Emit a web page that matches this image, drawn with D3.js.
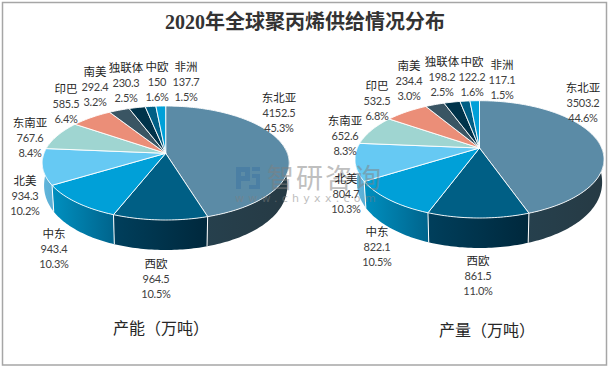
<!DOCTYPE html>
<html>

<head>
  <meta charset="utf-8">
  <script src="https://d3js.org/d3.v7.min.js"></script>
  <style>
    html, body { margin: 0; padding: 0; background: #fff; }
    svg { display: block; }
    .name { font-family: "Noto Sans CJK SC"; font-size: 11.5px; fill: #262626; }
    .num { font-family: Lato, "Noto Sans"; font-size: 11px; letter-spacing: -0.25px; fill: #404040; }
  </style>
</head>

<body>
  <div id="chart"></div>

  <script>
    var regions = ["东北亚", "西欧", "中东", "北美", "东南亚", "印巴", "南美", "独联体", "中欧", "非洲"];

    var capacity = [4152.5, 964.5, 943.4, 934.3, 767.6, 585.5, 292.4, 230.3, 150, 137.7];
    var capacityPct = ["45.3%", "10.5%", "10.3%", "10.2%", "8.4%", "6.4%", "3.2%", "2.5%", "1.6%", "1.5%"];

    var output = [3503.2, 861.5, 822.1, 804.7, 652.6, 532.5, 234.4, 198.2, 122.2, 117.1];
    var outputPct = ["44.6%", "11.0%", "10.5%", "10.3%", "8.3%", "6.8%", "3.0%", "2.5%", "1.6%", "1.5%"];

    var topColors = ["#5b8ba6", "#005f85", "#00a0d8", "#66c9f3", "#9fd5d1", "#eb8e78", "#3a5563", "#00334a", "#005f85", "#00a0d8"];
    // side wall of each slice, left and right end of the gradient
    var sideColors = [["#26404d", "#263a44"], ["#003f5c", "#00283c"], ["#0090c0", "#00648c"], ["#62b6dc", "#5aaed4"]];

    // label centres, same order as regions
    var capacityLabels = [[279, 97], [156, 263], [54, 233], [25, 180], [30, 122], [66, 88], [95, 71], [126, 67], [157, 66], [186, 66]];
    var outputLabels = [[583, 87], [478, 260], [377, 231], [346, 178], [345, 120], [377, 85], [409, 65], [442, 61], [472, 61], [502, 64]];

    var width = 610, height = 370;

    var svg = d3.select("#chart").append("svg")
      .attr("width", width)
      .attr("height", height);

    var defs = svg.append("defs");

    svg.append("rect")
      .attr("x", 2.5).attr("y", 2.5)
      .attr("width", 604).attr("height", 362.5)
      .attr("fill", "#fff")
      .attr("stroke", "#a6a6a6")
      .attr("stroke-width", 1.5);

    svg.append("text")
      .attr("x", 305).attr("y", 29)
      .attr("text-anchor", "middle")
      .attr("font-family", "'Liberation Serif', 'Noto Sans CJK SC'")
      .attr("font-size", 20)
      .attr("font-weight", "bold")
      .attr("fill", "#333")
      .text("2020年全球聚丙烯供给情况分布");

    // circle -> screen, perspective seen from the front of the pie
    function makeProjection(cx, topY, apexY, bottomY, rx) {
      var c = (2 * apexY - topY - bottomY) / (bottomY - topY);
      var a = bottomY * (1 + c) - apexY;
      var A = rx * Math.sqrt(1 - c * c);
      return function (angle) {
        var u = Math.sin(angle), v = -Math.cos(angle);
        var w = 1 + c * v;
        return [cx + A * u / w, (a * v + apexY) / w];
      };
    }

    function drawPie(id, values, pct, labelPos, caption, captionX, captionY, geo) {
      var project = makeProjection(geo.cx, geo.top, geo.apex, geo.bottom, geo.rx);
      var line = d3.line();
      var slices = d3.pie().sort(null).value(function (d) { return d; })(values);

      function arcPoints(a0, a1) {
        var n = Math.max(2, Math.ceil((a1 - a0) / 0.02));
        return d3.range(n + 1).map(function (i) { return a0 + (a1 - a0) * i / n; });
      }

      // lower rim point under a given angle
      function lower(angle) {
        var p = project(angle);
        var v = Math.max(0, -Math.cos(angle));
        var d = geo.depth * (0.62 + 0.38 * Math.pow(v, 0.6));
        return [geo.cx + (p[0] - geo.cx) * 0.985, p[1] + d];
      }

      var g = svg.append("g");
      var wall0 = 80 * Math.PI / 180, wall1 = 280 * Math.PI / 180;

      // walls first
      slices.forEach(function (s, i) {
        var a0 = Math.max(s.startAngle, wall0), a1 = Math.min(s.endAngle, wall1);
        if (a1 <= a0) return;
        var angles = arcPoints(a0, a1);
        var upper = angles.map(project);
        var under = angles.map(lower).reverse();
        var cols = sideColors[i] || sideColors[3];
        var gradId = id + "-side-" + i;
        var xs = upper.concat(under).map(function (p) { return p[0]; });
        var grad = defs.append("linearGradient")
          .attr("id", gradId)
          .attr("gradientUnits", "userSpaceOnUse")
          .attr("x1", d3.min(xs)).attr("x2", d3.max(xs))
          .attr("y1", 0).attr("y2", 0);
        grad.append("stop").attr("offset", 0).attr("stop-color", cols[0]);
        grad.append("stop").attr("offset", 1).attr("stop-color", cols[1]);
        g.append("path")
          .attr("d", line(upper.concat(under)) + "Z")
          .attr("fill", "url(#" + gradId + ")");
      });

      // white seams between walls
      slices.forEach(function (s) {
        if (s.endAngle <= wall0 || s.endAngle >= wall1) return;
        g.append("path")
          .attr("d", line([project(s.endAngle), lower(s.endAngle)]))
          .attr("stroke", "#fff")
          .attr("stroke-width", 1)
          .attr("fill", "none");
      });

      slices.forEach(function (s, i) {
        var pts = [[geo.cx, geo.apex]].concat(arcPoints(s.startAngle, s.endAngle).map(project));
        g.append("path")
          .attr("d", line(pts) + "Z")
          .attr("fill", topColors[i])
          .attr("stroke", "#fff")
          .attr("stroke-width", 0.9)
          .attr("stroke-linejoin", "round");
      });

      // caption + labels get added after the watermark
      return function () {
        var lab = svg.append("g").attr("text-anchor", "middle");
        slices.forEach(function (s, i) {
          var x = labelPos[i][0], y = labelPos[i][1];
          lab.append("text").attr("class", "name").attr("x", x).attr("y", y + 4.5).text(regions[i]);
          lab.append("text").attr("class", "num").attr("x", x).attr("y", y + 19.5).text(values[i]);
          lab.append("text").attr("class", "num").attr("x", x).attr("y", y + 34.5).text(pct[i]);
        });
        svg.append("text")
          .attr("x", captionX).attr("y", captionY)
          .attr("text-anchor", "middle")
          .attr("font-family", "'Noto Sans CJK SC'")
          .attr("font-size", 16)
          .attr("fill", "#262626")
          .text(caption);
      };
    }

    var labelsA = drawPie("cap", capacity, capacityPct, capacityLabels, "产能（万吨）", 161, 334,
      { cx: 165.7, top: 106, apex: 153.3, bottom: 220, rx: 123.5, depth: 30 });
    var labelsB = drawPie("out", output, outputPct, outputLabels, "产量（万吨）", 487, 336,
      { cx: 479.5, top: 100.7, apex: 148, bottom: 218, rx: 124.5, depth: 30 });

    // watermark
    var mark = svg.append("g").attr("opacity", 0.5);
    mark.append("path")
      .attr("d", "M236 167H250V181H241V189H236ZM241 172V176H245V172ZM252 167H260V171H252ZM252 174H260V189H249V185H256V178H252Z")
      .attr("fill", "#2f6ca3")
      .attr("opacity", 0.7);
    mark.append("text")
      .attr("x", 267).attr("y", 188)
      .attr("font-family", "'Noto Sans CJK SC'")
      .attr("font-size", 27)
      .attr("letter-spacing", 2)
      .attr("fill", "#808080")
      .text("智研咨询");
    mark.append("text")
      .attr("x", 235).attr("y", 202)
      .attr("font-family", "'DejaVu Sans'")
      .attr("font-size", 11)
      .attr("letter-spacing", 4.3)
      .attr("fill", "#808080")
      .text("www.chyxx.com");

    labelsA();
    labelsB();
  </script>
</body>

</html>
